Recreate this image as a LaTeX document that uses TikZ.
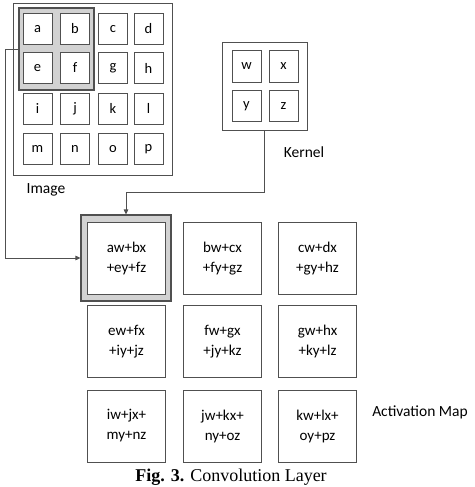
\documentclass[tikz,border=0pt]{standalone}
\usepackage{fontspec}
\setmainfont{Carlito}
\newfontfamily\capfont{Liberation Serif}
\usetikzlibrary{arrows.meta}
\definecolor{ln}{HTML}{505050}
\definecolor{hlg}{HTML}{D2D2D2}
\begin{document}
\begin{tikzpicture}[x=1pt,y=-1pt,
  cell/.style={draw=ln,line width=1pt,fill=white,minimum width=29pt,minimum height=31pt,inner sep=0pt,font=\fontsize{14.5}{16}\selectfont},
  frame/.style={draw=ln,line width=1pt,inner sep=0pt},
  abox/.style={draw=ln,line width=1pt,fill=white,minimum width=78pt,minimum height=72pt,inner sep=0pt,align=center,font=\fontsize{15}{20}\selectfont},
  lbl/.style={font=\fontsize{15.5}{17}\selectfont,inner sep=0pt},
  conn/.style={draw=ln,line width=0.9pt},
  tip/.style={-{Triangle[length=5pt,width=4.5pt]}}
]
\useasboundingbox (0,0) rectangle (474,487);
% image frame
\node[frame,minimum width=159pt,minimum height=171pt] (I) at (92.5,89.5) {};
\node[frame,fill=hlg,draw=ln,line width=1.3pt,minimum width=75pt,minimum height=82pt] (hl) at (56.5,49) {};
% image cells
\node[cell] (a) at (37.5,29) {a};
\node[cell] (b) at (75,29) {b};
\node[cell] (c) at (113,29) {c};
\node[cell] (d) at (148.5,29) {d};
\node[cell] (e) at (37.5,68) {e};
\node[cell] (f) at (75,68) {f};
\node[cell] (g) at (113,68) {g};
\node[cell] (h) at (148.5,68) {h};
\node[cell] (i) at (37.5,108.5) {i};
\node[cell] (j) at (75,108.5) {j};
\node[cell] (k) at (113,108.5) {k};
\node[cell] (l) at (148.5,108.5) {l};
\node[cell] (m) at (37.5,149) {m};
\node[cell] (n) at (75,149) {n};
\node[cell] (o) at (113,149) {o};
\node[cell] (p) at (148.5,149) {p};
\node[lbl] (imgl) at (46,190) {Image};
% kernel
\node[frame,minimum width=85pt,minimum height=87pt] (K) at (264.5,86.5) {};
\node[cell] (w) at (246.5,66.5) {w};
\node[cell] (x) at (283.5,66.5) {x};
\node[cell] (y) at (246.5,106) {y};
\node[cell] (z) at (283.5,106) {z};
\node[lbl] (kl) at (304,152) {Kernel};
% activation map
\node[frame,fill=hlg,line width=1.1pt,minimum width=90pt,minimum height=86pt] (A1o) at (126,258) {};
\node[abox,line width=1.4pt] (A1) at (126.5,258.5) {aw+bx\\+ey+fz};
\node[abox] (A2) at (222.5,258.5) {bw+cx\\+fy+gz};
\node[abox] (A3) at (317.5,258.5) {cw+dx\\+gy+hz};
\node[abox] (A4) at (126.5,341.5) {ew+fx\\+iy+jz};
\node[abox] (A5) at (222.5,341.5) {fw+gx\\+jy+kz};
\node[abox] (A6) at (317.5,341.5) {gw+hx\\+ky+lz};
\node[abox] (A7) at (126.5,426) {iw+jx+\\my+nz};
\node[abox] (A8) at (222.5,426) {jw+kx+\\ny+oz};
\node[abox] (A9) at (317.5,426) {kw+lx+\\oy+pz};
\node[lbl] (aml) at (420,412) {Activation Map};
% connectors
\draw[conn,tip] (hl.west) -- ++(-13,0) |- (A1o.west);
\draw[conn,tip] (K.south) -- ++(0,62) -| (A1o.north);
% caption
\node[inner sep=0pt,font=\capfont\fontsize{18}{20}\selectfont] (cap) at (231,477) {\textbf{Fig. 3.} Convolution Layer};
\end{tikzpicture}
\end{document}
